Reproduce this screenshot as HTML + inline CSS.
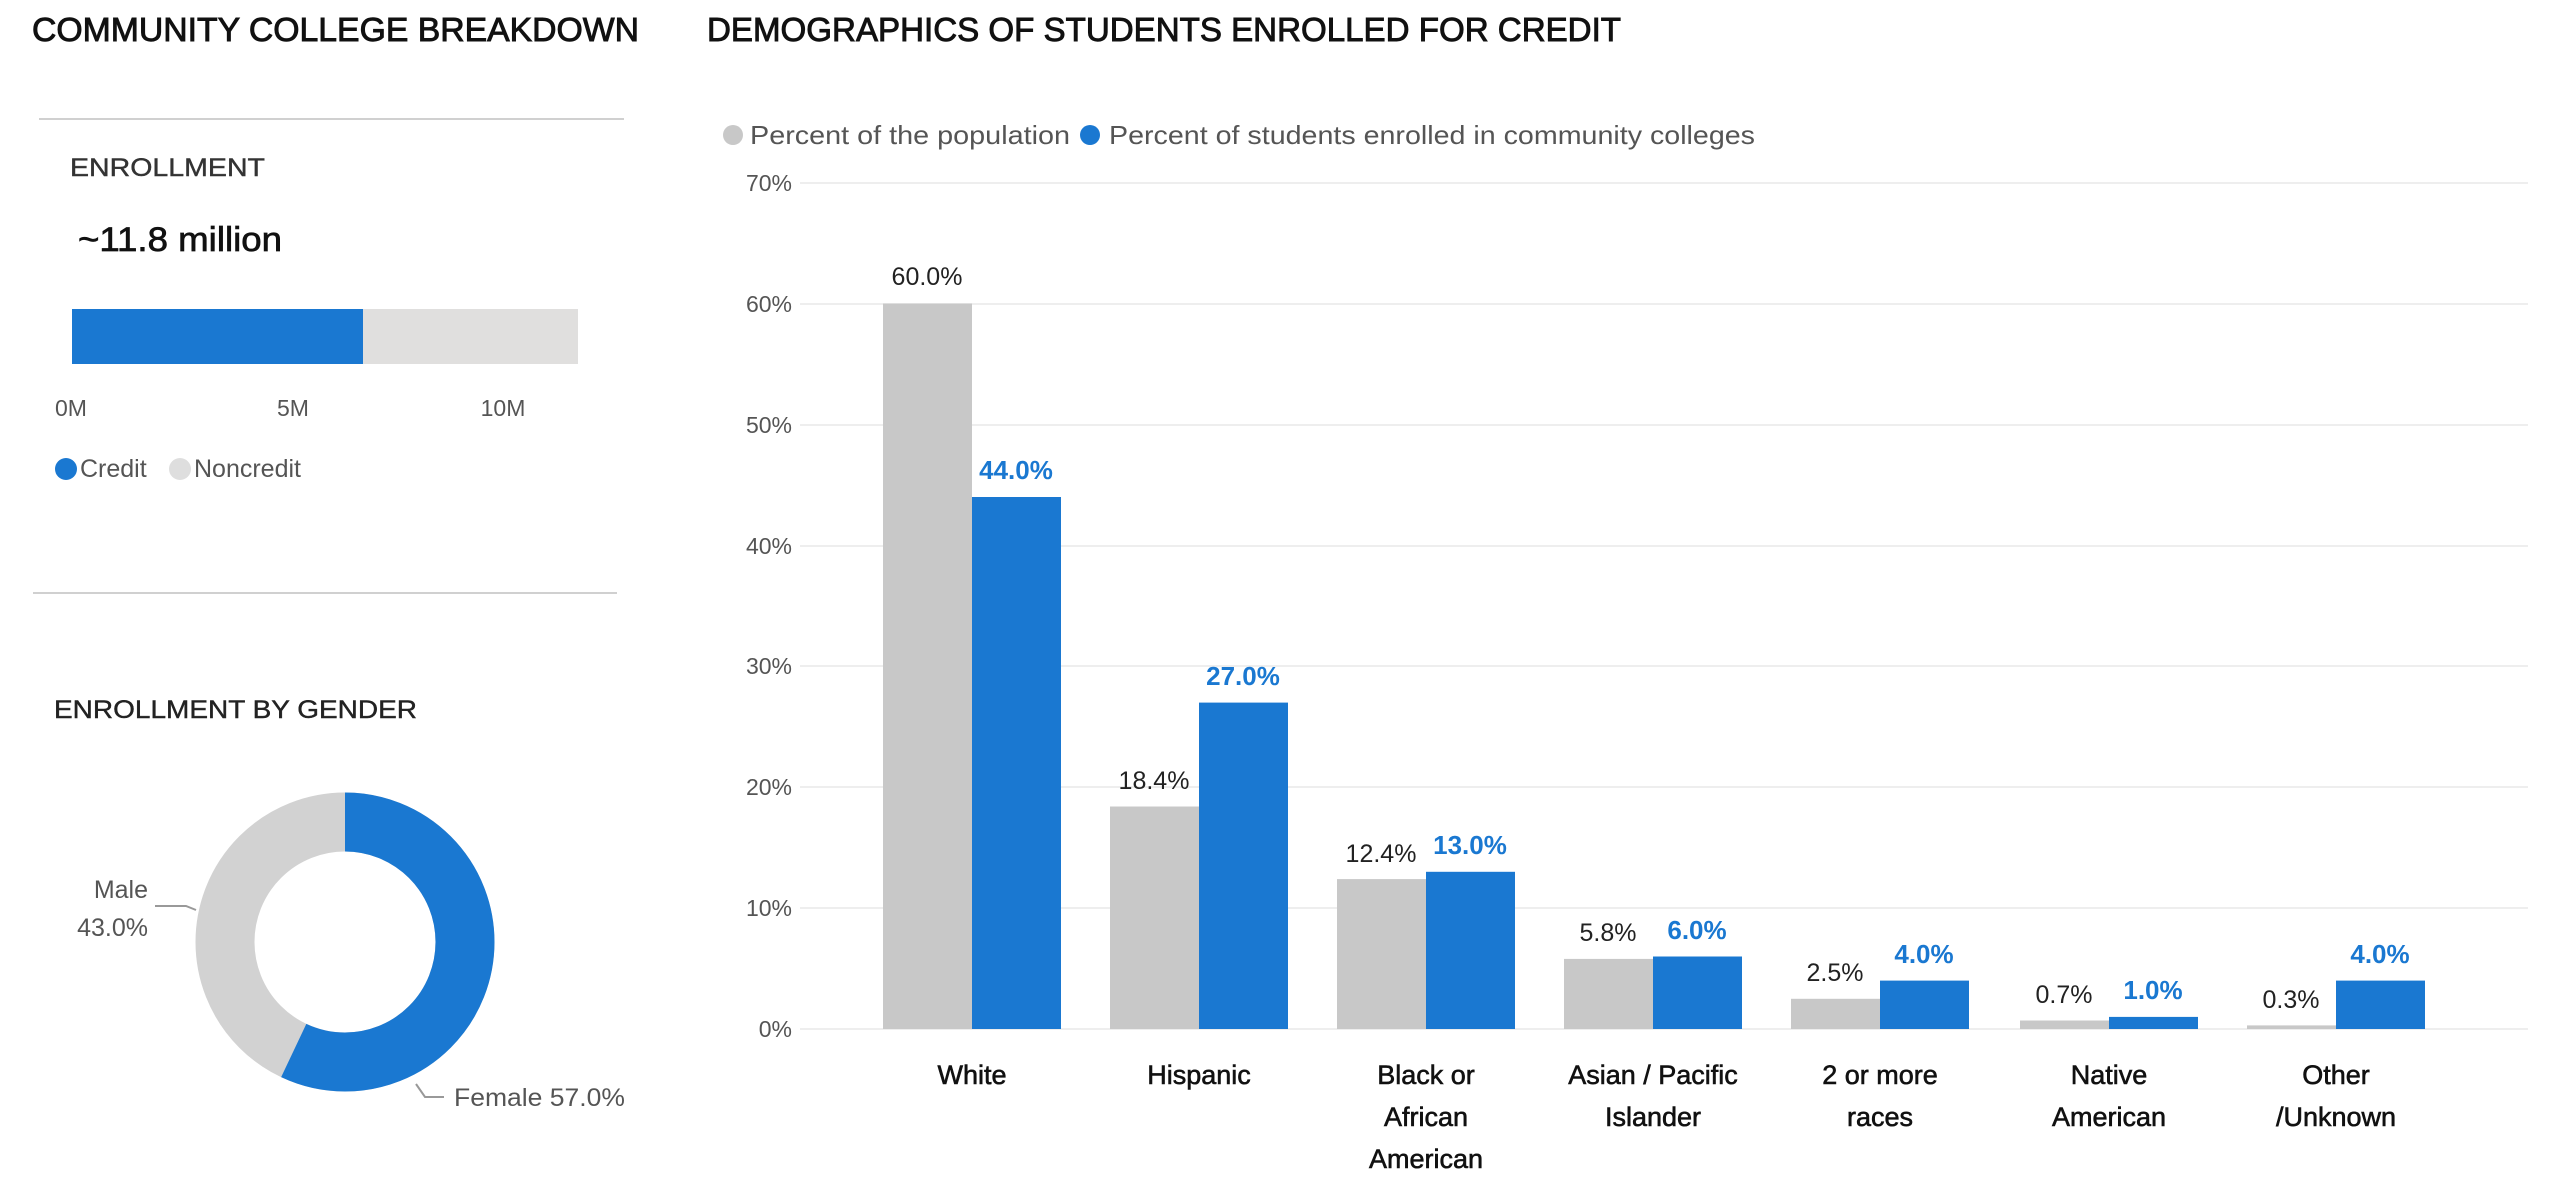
<!DOCTYPE html>
<html><head><meta charset="utf-8"><style>
html,body{margin:0;padding:0;background:#fff;}
svg{display:block;font-family:"Liberation Sans",sans-serif;}
</style></head><body>
<svg width="2560" height="1192" viewBox="0 0 2560 1192" xmlns="http://www.w3.org/2000/svg">
<text x="32" y="41" font-size="33" fill="#111" stroke="#111" stroke-width="0.9" textLength="607" lengthAdjust="spacingAndGlyphs">COMMUNITY COLLEGE BREAKDOWN</text>
<text x="707" y="41" font-size="33" fill="#111" stroke="#111" stroke-width="0.9" textLength="914" lengthAdjust="spacingAndGlyphs">DEMOGRAPHICS OF STUDENTS ENROLLED FOR CREDIT</text>
<line x1="39" y1="119" x2="624" y2="119" stroke="#d0d0d0" stroke-width="2"/>
<text x="70" y="176" font-size="25" fill="#333" stroke="#333" stroke-width="0.4" textLength="195" lengthAdjust="spacingAndGlyphs">ENROLLMENT</text>
<text x="78" y="251" font-size="34" fill="#111" stroke="#111" stroke-width="0.7" textLength="204" lengthAdjust="spacingAndGlyphs">~11.8 million</text>
<rect x="72" y="309" width="291" height="55" fill="#1a78d1"/>
<rect x="363" y="309" width="215" height="55" fill="#e0dfde"/>
<g font-size="23" fill="#555" text-anchor="middle">
<text x="71" y="416">0M</text><text x="293" y="416">5M</text><text x="503" y="416">10M</text></g>
<circle cx="66" cy="469" r="11" fill="#1a78d1"/>
<text x="80" y="477" font-size="25" fill="#555">Credit</text>
<circle cx="180" cy="469" r="11" fill="#dedede"/>
<text x="194" y="477" font-size="25" fill="#555">Noncredit</text>
<line x1="33" y1="593" x2="617" y2="593" stroke="#d0d0d0" stroke-width="2"/>
<text x="54" y="718" font-size="25" fill="#222" stroke="#222" stroke-width="0.4" textLength="363" lengthAdjust="spacingAndGlyphs">ENROLLMENT BY GENDER</text>
<g transform="translate(345,942)">
<circle r="120" fill="none" stroke="#d2d2d2" stroke-width="59"/>
<circle r="120" fill="none" stroke="#1a78d1" stroke-width="59" stroke-dasharray="429.8 1000" transform="rotate(-90)"/>
</g>
<path d="M155 906 L186 906 L196 910" stroke="#999" stroke-width="2" fill="none"/>
<text x="148" y="898" font-size="25" fill="#555" text-anchor="end">Male</text>
<text x="148" y="936" font-size="25" fill="#555" text-anchor="end">43.0%</text>
<path d="M416 1084 L425 1097 L444 1097" stroke="#999" stroke-width="2" fill="none"/>
<text x="454" y="1106" font-size="25" fill="#555" textLength="171" lengthAdjust="spacingAndGlyphs">Female 57.0%</text>
<circle cx="733" cy="135" r="10" fill="#c8c8c8"/>
<text x="750" y="144" font-size="26" fill="#555" textLength="320" lengthAdjust="spacingAndGlyphs">Percent of the population</text>
<circle cx="1090" cy="135" r="10" fill="#1a78d1"/>
<text x="1109" y="144" font-size="26" fill="#555" textLength="646" lengthAdjust="spacingAndGlyphs">Percent of students enrolled in community colleges</text>
<g stroke="#eeeeee" stroke-width="2">
<line x1="800" y1="183" x2="2528" y2="183"/><line x1="800" y1="304" x2="2528" y2="304"/>
<line x1="800" y1="425" x2="2528" y2="425"/><line x1="800" y1="546" x2="2528" y2="546"/>
<line x1="800" y1="666" x2="2528" y2="666"/><line x1="800" y1="787" x2="2528" y2="787"/>
<line x1="800" y1="908" x2="2528" y2="908"/><line x1="800" y1="1029" x2="2528" y2="1029"/>
</g>
<g font-size="23" fill="#555" text-anchor="end">
<text x="792" y="191">70%</text><text x="792" y="312">60%</text><text x="792" y="433">50%</text>
<text x="792" y="554">40%</text><text x="792" y="674">30%</text><text x="792" y="795">20%</text>
<text x="792" y="916">10%</text><text x="792" y="1037">0%</text></g>
<g fill="#c8c8c8">
<rect x="883" y="303.6" width="89" height="725.4"/>
<rect x="1110" y="806.5" width="89" height="222.5"/>
<rect x="1337" y="879.1" width="89" height="149.9"/>
<rect x="1564" y="958.9" width="89" height="70.1"/>
<rect x="1791" y="998.8" width="89" height="30.2"/>
<rect x="2020" y="1020.5" width="89" height="8.5"/>
<rect x="2247" y="1025.4" width="89" height="3.6"/>
</g>
<g fill="#1a78d1">
<rect x="972" y="497.0" width="89" height="532"/>
<rect x="1199" y="702.6" width="89" height="326.4"/>
<rect x="1426" y="871.8" width="89" height="157.2"/>
<rect x="1653" y="956.5" width="89" height="72.5"/>
<rect x="1880" y="980.6" width="89" height="48.4"/>
<rect x="2109" y="1016.9" width="89" height="12.1"/>
<rect x="2336" y="980.6" width="89" height="48.4"/>
</g>
<g font-size="25" fill="#222" text-anchor="middle">
<text x="927" y="285">60.0%</text>
<text x="1154" y="789">18.4%</text>
<text x="1381" y="862">12.4%</text>
<text x="1608" y="941">5.8%</text>
<text x="1835" y="981">2.5%</text>
<text x="2064" y="1003">0.7%</text>
<text x="2291" y="1008">0.3%</text>
</g>
<g font-size="26" fill="#1a78d1" text-anchor="middle" font-weight="bold">
<text x="1016" y="479">44.0%</text>
<text x="1243" y="685">27.0%</text>
<text x="1470" y="854">13.0%</text>
<text x="1697" y="939">6.0%</text>
<text x="1924" y="963">4.0%</text>
<text x="2153" y="999">1.0%</text>
<text x="2380" y="963">4.0%</text>
</g>
<g font-size="27" fill="#111" stroke="#111" stroke-width="0.6" text-anchor="middle">
<text x="972" y="1084">White</text>
<text x="1199" y="1084">Hispanic</text>
<text x="1426" y="1084">Black or</text><text x="1426" y="1126">African</text><text x="1426" y="1168">American</text>
<text x="1653" y="1084">Asian / Pacific</text><text x="1653" y="1126">Islander</text>
<text x="1880" y="1084">2 or more</text><text x="1880" y="1126">races</text>
<text x="2109" y="1084">Native</text><text x="2109" y="1126">American</text>
<text x="2336" y="1084">Other</text><text x="2336" y="1126">/Unknown</text>
</g>
</svg>
</body></html>
